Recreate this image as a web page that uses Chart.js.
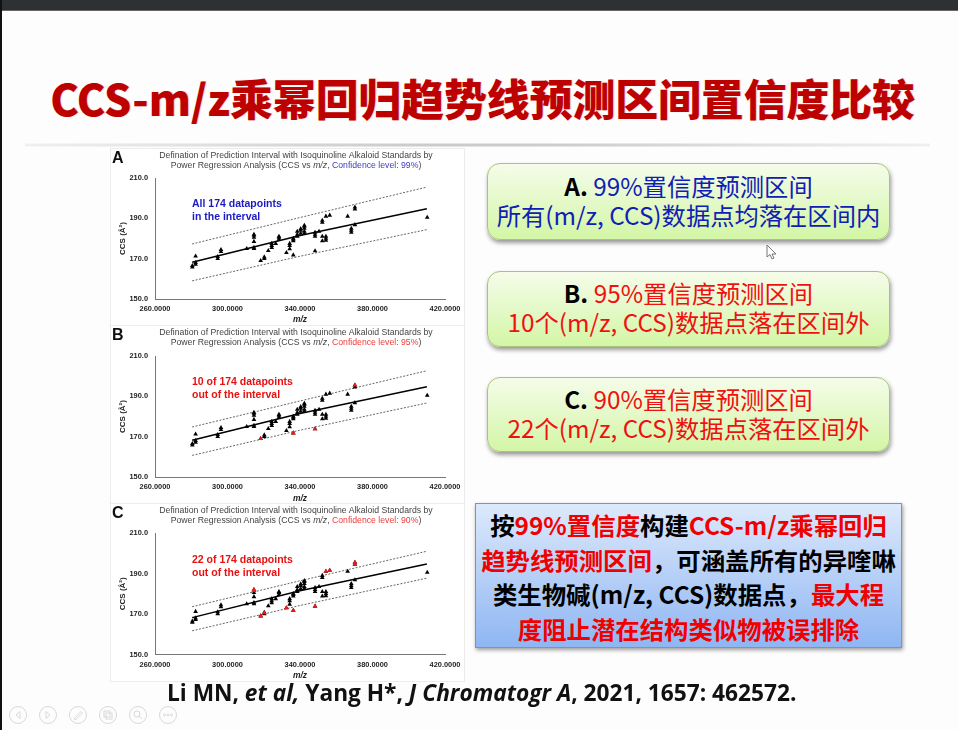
<!DOCTYPE html>
<html lang="zh">
<head>
<meta charset="utf-8">
<title>CCS-m/z乘幂回归趋势线预测区间置信度比较</title>
<script src="https://cdn.jsdelivr.net/npm/chart.js@4"></script>
<style>
  html, body { margin: 0; padding: 0; }
  body { width: 958px; height: 730px; position: relative; overflow: hidden; background: #fdfdfe;
         font-family: "Noto Sans CJK SC", "Noto Sans", sans-serif; }
  .abs { position: absolute; }
  #topbar { left: 0; top: 0; width: 958px; height: 10px; background: #2e3134; border-bottom: 1px solid #666; }
  #sidebar { left: 0; top: 0; width: 2px; height: 730px; background: #111; }
  #title { left: 0; top: 62px; width: 965px; text-align: center; font-size: 42.8px; font-weight: 900; line-height: 70px;
           color: #bd0000; white-space: nowrap; text-shadow: 1px 0 1px #efc8c8; }
  #rule { left: 25px; top: 143px; width: 905px; height: 4px;
          background: radial-gradient(ellipse at center, #bdbdbd 0%, #e6e6e6 55%, #fdfdfe 100%); }
  .panel { background: #fff; outline: 1px solid #ececec; }
  .panel canvas { position: absolute; left: 0; top: 0; }
  .ptitle { position: absolute; left: 0; top: 1px; width: 370px; text-align: center; color: #444;
            font: 8.7px/10px "Liberation Sans", sans-serif; white-space: nowrap; z-index: 2; }
  .pletter { position: absolute; left: 1px; top: 0; font: bold 16px/18px "Liberation Sans", sans-serif; color: #111; z-index: 2; }
  .pnote { position: absolute; left: 81px; font: bold 10.5px/13px "Liberation Sans", sans-serif; white-space: nowrap; z-index: 2; }
  .box { left: 487px; width: 403px; text-align: center; font-size: 24.3px; line-height: 29px; border-radius: 13px;
         border: 1px solid #a9c37a; background: linear-gradient(#f5fcea, #d3f6a6); box-shadow: 1px 3px 4px #999;
         display: flex; flex-direction: column; justify-content: center; white-space: nowrap; padding-bottom: 4px; box-sizing: border-box; }
  .box b { color: #000; }
  #summary { left: 475px; top: 503px; width: 427px; height: 145px; border: 1px solid #6f97c9;
             background: linear-gradient(#dde9fb, #8fb6f3); box-shadow: 1px 2px 4px #999; text-align: center;
             font-size: 24.4px; font-weight: 700; line-height: 34.5px; color: #000; white-space: nowrap; padding-top: 4px; box-sizing: border-box; }
  #summary i { font-style: normal; color: #f00000; }
  #cite { left: 167px; top: 677px; width: 660px; font: 700 22.7px/32px "Open Sans", sans-serif; color: #111; white-space: nowrap; }
  #controls { left: 8px; top: 705px; }
  #cursor { left: 766px; top: 244px; }
</style>
</head>
<body>
<div class="abs" id="topbar"></div>
<div class="abs" id="sidebar"></div>
<div class="abs" id="title">CCS-m/z乘幂回归趋势线预测区间置信度比较</div>
<div class="abs" id="rule"></div>

<div class="abs panel" style="left:111px;top:149px;width:353px;height:176px">
  <div class="pletter">A</div>
  <div class="ptitle">Defination of Prediction Interval with Isoquinoline Alkaloid Standards by<br>Power Regression Analysis (CCS vs <em>m/z</em>, <span style="color:#3b3bc4">Confidence level: 99%</span>)</div>
  <div class="pnote" style="top:48px;color:#1a1ac4">All 174 datapoints<br>in the interval</div>
  <canvas id="chartA" width="353" height="176" style="width:353px;height:176px"></canvas>
</div>
<div class="abs panel" style="left:111px;top:326px;width:353px;height:178px">
  <div class="pletter">B</div>
  <div class="ptitle">Defination of Prediction Interval with Isoquinoline Alkaloid Standards by<br>Power Regression Analysis (CCS vs <em>m/z</em>, <span style="color:#ee3a3a">Confidence level: 95%</span>)</div>
  <div class="pnote" style="top:49px;color:#e81010">10 of 174 datapoints<br>out of the interval</div>
  <canvas id="chartB" width="353" height="178" style="width:353px;height:178px"></canvas>
</div>
<div class="abs panel" style="left:111px;top:504px;width:353px;height:177px">
  <div class="pletter">C</div>
  <div class="ptitle">Defination of Prediction Interval with Isoquinoline Alkaloid Standards by<br>Power Regression Analysis (CCS vs <em>m/z</em>, <span style="color:#ee3a3a">Confidence level: 90%</span>)</div>
  <div class="pnote" style="top:49px;color:#e81010">22 of 174 datapoints<br>out of the interval</div>
  <canvas id="chartC" width="353" height="177" style="width:353px;height:177px"></canvas>
</div>

<div class="abs box" style="top:163px;height:77px">
  <div><b>A.</b> <span style="color:#1020b4">99%置信度预测区间</span></div>
  <div style="color:#1020b4">所有(m/z, CCS)数据点均落在区间内</div>
</div>
<div class="abs box" style="top:271px;height:76px">
  <div><b>B.</b> <span style="color:#f01010">95%置信度预测区间</span></div>
  <div style="color:#f01010">10个(m/z, CCS)数据点落在区间外</div>
</div>
<div class="abs box" style="top:377px;height:75px">
  <div><b>C.</b> <span style="color:#f01010">90%置信度预测区间</span></div>
  <div style="color:#f01010">22个(m/z, CCS)数据点落在区间外</div>
</div>

<div class="abs" id="summary">
  <div>按<i>99%置信度</i>构建<i>CCS-m/z乘幂回归</i></div>
  <div><i>趋势线预测区间</i>，可涵盖所有的异喹啉</div>
  <div>类生物碱(m/z, CCS)数据点，<i>最大程</i></div>
  <div><i>度阻止潜在结构类似物被误排除</i></div>
</div>

<div class="abs" id="cite">Li MN, <em>et al,</em> Yang H*, <em>J Chromatogr A</em>, 2021, 1657: 462572.</div>

<svg class="abs" id="controls" width="175" height="20" viewBox="0 0 175 20" fill="none" stroke="#d8d8d8" stroke-width="1">
  <circle cx="10" cy="10" r="8.5"/><path d="M12 6.5 L8 10 L12 13.5 Z"/>
  <circle cx="40" cy="10" r="8.5"/><path d="M38 6.5 L42 10 L38 13.5 Z"/>
  <circle cx="70" cy="10" r="8.5"/><path d="M66 14 L73 6.5 L74.5 8 L67.5 15 Z"/>
  <circle cx="100" cy="10" r="8.5"/><rect x="96" y="6" width="6" height="6"/><rect x="98" y="8" width="6" height="6"/>
  <circle cx="130" cy="10" r="8.5"/><circle cx="129" cy="9" r="3"/><path d="M131 11 L134 14"/>
  <circle cx="160" cy="10" r="8.5"/><circle cx="156.5" cy="10" r="1"/><circle cx="160" cy="10" r="1"/><circle cx="163.5" cy="10" r="1"/>
</svg>
<svg class="abs" id="cursor" width="12" height="17" viewBox="0 0 12 17">
  <path d="M1 1 L1 13 L4 10.5 L6 15 L8 14 L6 10 L10 10 Z" fill="#fff" stroke="#777" stroke-width="1"/>
</svg>

<script>
// Data
const tickX = [260, 300, 340, 380, 420];
const tickY = [150, 170, 190, 210];

const pointMz = [280.6, 280.6, 282.4, 282.4, 282.4, 294.6, 294.6, 296.4, 296.4, 310.6, 314.6, 314.6, 314.6, 314.6, 314.6, 314.6,
  318.3, 320.3, 320.3, 322.5, 324.4, 324.4, 324.4, 326.6, 328.4, 328.4, 328.4, 332.5, 334.3, 334.3, 334.3, 336.3, 336.3, 336.3, 336.3,
  338.5, 338.5, 338.5, 340.4, 340.4, 340.4, 342.4, 342.4, 342.4, 342.4, 342.4, 348.3, 348.3, 348.3, 348.3, 350.5, 352.3, 352.3, 352.3, 352.3,
  354.3, 354.3, 354.3, 354.3, 356.4, 366.3, 368.3, 368.3, 368.3, 370.3, 370.3, 370.3, 410.2];
const pointCcs = [165.8, 166.5, 167.2, 168, 171.2, 170, 171, 173.5, 174.5, 175, 175, 175.6, 178.5, 180.5, 181.5, 182,
  169, 170, 170.8, 174, 175.5, 176.5, 177.5, 177.5, 179.5, 180.5, 181, 173, 174.8, 176.5, 177.5, 171.8, 178.8, 179.5, 180,
  181, 182, 183.5, 182.5, 184, 184.8, 182.5, 183.5, 185, 186, 186.5, 173.8, 181, 182, 183, 183.5, 178.8, 181, 188, 189,
  179, 180, 181, 191, 191.5, 191, 183, 184, 185, 186.8, 194.5, 195.5, 190.5];

const outMzB = [318.3, 336.3, 348.3, 370.3];
const outCcsB = [169, 171.8, 173.8, 195.5];
const outMzC = [314.6, 314.6, 318.3, 320.3, 332.5, 336.3, 348.3, 354.3, 356.4, 370.3, 370.3];
const outCcsC = [181.5, 182, 169, 170.5, 173, 171.8, 173.8, 191, 191.5, 194.5, 195.5];

const lineMz = [280.5, 340, 410];
const fitCcs = [168.2, 181.5, 194.7];
const upperA = [177.3, 190.4, 205.5];
const lowerA = [159, 171.2, 184.4];
const upperB = [174.8, 187.7, 202.7];
const lowerB = [160.7, 173.2, 186.7];
const upperC = [173.6, 186.4, 201];
const lowerC = [161.7, 174.2, 187.7];

function pairs(xs, ys) {
  return xs.map((x, i) => ({ x: x, y: ys[i] }));
}

function lineSet(ys, color, width, dash) {
  return { type: 'scatter', showLine: true, data: pairs(lineMz, ys), borderColor: color, borderWidth: width,
           borderDash: dash, pointRadius: 0, tension: 0, order: 3 };
}

function pointSet(xs, ys, color, order) {
  return { type: 'scatter', data: pairs(xs, ys), pointStyle: 'triangle', pointRadius: 2.7,
           backgroundColor: color, borderColor: color, borderWidth: 0, order: order };
}

// top = gap above plot, bottomGap = height of the x axis block
function renderChart(id, upper, lower, outMz, outCcs, top, bottomGap) {
  const datasets = [
    lineSet(upper, '#666', 1, [2, 1.5]),
    lineSet(lower, '#666', 1, [2, 1.5]),
    lineSet(fitCcs, '#000', 1.5, []),
    pointSet(pointMz, pointCcs, '#000', 2)
  ];
  if (outMz) datasets.push(pointSet(outMz, outCcs, '#f01818', 1));

  new Chart(document.getElementById(id), {
    type: 'scatter',
    data: { datasets: datasets },
    options: {
      responsive: false,
      animation: false,
      events: [],
      layout: { padding: { top: top, right: 19, left: 0, bottom: 0 } },
      plugins: { legend: { display: false }, tooltip: { enabled: false } },
      scales: {
        x: {
          type: 'linear', min: 260, max: 420,
          afterBuildTicks: (axis) => { axis.ticks = tickX.map(v => ({ value: v })); },
          afterFit: (axis) => { axis.height = bottomGap; },
          grid: { display: false, drawTicks: true, tickLength: 3, tickColor: '#777' },
          border: { color: '#777', width: 1 },
          ticks: { color: '#222', padding: 3, maxRotation: 0, autoSkip: false, font: { family: 'Liberation Sans', size: 7.4, weight: 'bold' },
                   callback: (v) => v.toFixed(4) },
          title: { display: true, text: 'm/z', color: '#222', padding: { top: 1, bottom: 0 },
                   font: { family: 'Liberation Sans', size: 8.5, weight: 'bold', style: 'italic' } }
        },
        y: {
          type: 'linear', min: 150, max: 210,
          afterBuildTicks: (axis) => { axis.ticks = tickY.map(v => ({ value: v })); },
          afterFit: (axis) => { axis.width = 44; },
          grid: { display: false, drawTicks: true, tickLength: 3, tickColor: '#777' },
          border: { color: '#777', width: 1 },
          ticks: { color: '#222', padding: 4, font: { family: 'Liberation Sans', size: 7.4, weight: 'bold' },
                   callback: (v) => v.toFixed(1) },
          title: { display: true, text: 'CCS (Å²)', color: '#222', padding: { top: 7, bottom: 4 },
                   font: { family: 'Liberation Sans', size: 8, weight: 'bold' } }
        }
      }
    }
  });
}

renderChart('chartA', upperA, lowerA, null, null, 29, 26);
renderChart('chartB', upperB, lowerB, outMzB, outCcsB, 30, 27);
renderChart('chartC', upperC, lowerC, outMzC, outCcsC, 29, 26.5);
</script>
</body>
</html>
